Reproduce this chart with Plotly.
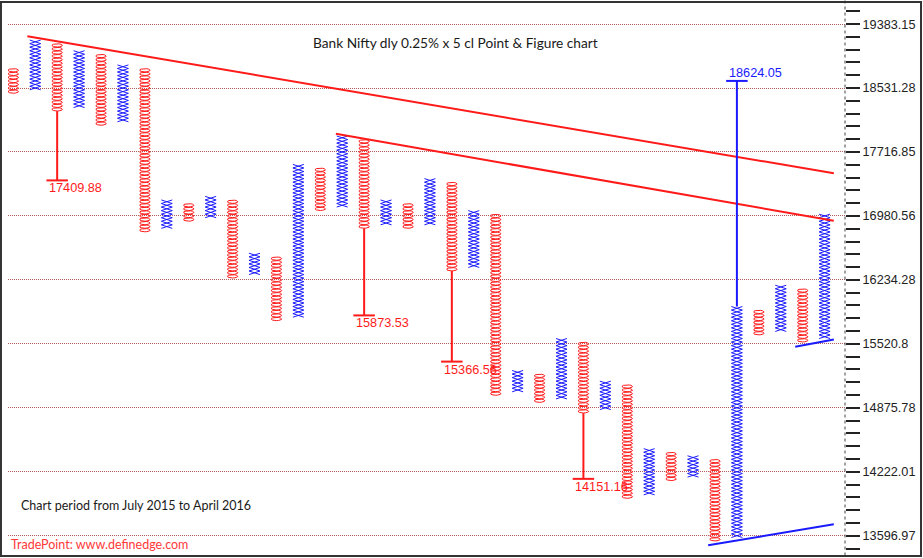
import numpy as np
import plotly.graph_objects as go

# ---------------- data ----------------
base_price = 13596.97          # price of box level 0
box_pct = 0.25                 # box size in %
reversal = 5

col_type = ['O', 'X'] * 19     # 38 columns, alternating, first column is O
col_high = [131, 139, 138, 136, 135, 132, 131, 94, 93, 95, 94, 79, 78, 104, 103, 112, 111, 94, 93,
            100, 99, 91, 90, 46, 45, 55, 54, 43, 42, 24, 23, 22, 21, 64, 63, 70, 69, 90]
col_low = [125, 126, 120, 121, 116, 117, 86, 87, 89, 90, 73, 74, 61, 62, 92, 93, 87, 88, 87,
           88, 75, 76, 40, 41, 38, 39, 35, 36, 11, 12, 16, 17, -1, 0, 57, 58, 55, 56]

tick_levels = [0, 18, 36, 54, 72, 90, 108, 126, 144]
tick_labels = ['13596.97', '14222.01', '14875.78', '15520.8', '16234.28',
               '16980.56', '17716.85', '18531.28', '19383.15']

target_col = [2, 16, 20, 26, 33]
target_level = [100, 62, 49, 16, 128]
target_label = ['17409.88', '15873.53', '15366.56', '14151.16', '18624.05']

trend_x0 = [0.64, 14.71, 31.69, 35.66]
trend_y0 = [140.6, 113.1, -2.7, 53.2]
trend_x1 = [37.42, 37.42, 37.42, 37.42]
trend_y1 = [102.0, 88.66, 3.2, 55.2]
trend_kind = ['down', 'down', 'up', 'up']

title_text = 'Bank Nifty dly 0.25% x 5 cl Point & Figure chart'
period_text = 'Chart period from July 2015 to April 2016'
source_text = 'TradePoint: www.definedge.com'

# ---------------- style ----------------
RED = '#ff1a1a'
BLUE = '#1a1aff'
GRID = '#b35c5c'
TXT_FONT = 'Lato'
NUM_FONT = 'Liberation Sans'

# ---------------- geometry helpers ----------------
XW, XH = 0.25, 0.5
OW, OH = 0.24, 0.46
theta = np.linspace(0, 2 * np.pi, 17)

xx, xy, ox, oy = [], [], [], []
for i, (t, lo, hi) in enumerate(zip(col_type, col_low, col_high)):
    for k in range(lo, hi + 1):
        if t == 'X':
            xx += [i - XW, i + XW, None, i - XW, i + XW, None]
            xy += [k - XH, k + XH, None, k + XH, k - XH, None]
        else:
            ox += list(i + OW * np.cos(theta)) + [None]
            oy += list(k + OH * np.sin(theta)) + [None]

fig = go.Figure()
fig.add_trace(go.Scatter(x=xx, y=xy, mode='lines', line=dict(color=BLUE, width=1),
                         hoverinfo='skip', showlegend=False))
fig.add_trace(go.Scatter(x=ox, y=oy, mode='lines', line=dict(color=RED, width=1),
                         hoverinfo='skip', showlegend=False))

# trend lines
for x0, y0, x1, y1, kind in zip(trend_x0, trend_y0, trend_x1, trend_y1, trend_kind):
    fig.add_trace(go.Scatter(x=[x0, x1], y=[y0, y1], mode='lines',
                             line=dict(color=RED if kind == 'down' else BLUE, width=2),
                             hoverinfo='skip', showlegend=False))

# vertical count targets
annotations = []
for c, lvl, lab in zip(target_col, target_level, target_label):
    if col_type[c] == 'O':
        start = col_low[c] - 0.5
        color = RED
        yshift = -8
    else:
        start = col_high[c] + 0.5
        color = BLUE
        yshift = 8
    fig.add_trace(go.Scatter(x=[c, c, None, c - 0.49, c + 0.49], y=[start, lvl, None, lvl, lvl],
                             mode='lines', line=dict(color=color, width=2),
                             hoverinfo='skip', showlegend=False))
    annotations.append(dict(x=c, y=lvl, xref='x', yref='y', text=lab, showarrow=False,
                            xanchor='left', yanchor='middle', xshift=-10, yshift=yshift,
                            font=dict(family=NUM_FONT, size=12.7, color=color)))

annotations += [
    dict(x=0.5352, y=0.9282, xref='paper', yref='paper', text=title_text, showarrow=False,
         xanchor='center', yanchor='middle', font=dict(family=TXT_FONT, size=13.7, color='#1a1a1a')),
    dict(x=0.0135, y=0.0922, xref='paper', yref='paper', text=period_text, showarrow=False,
         xanchor='left', yanchor='middle', font=dict(family=TXT_FONT, size=12.5, color='#1a1a1a')),
    dict(x=0.0010, y=0.0199, xref='paper', yref='paper', text=source_text, showarrow=False,
         xanchor='left', yanchor='middle', font=dict(family=TXT_FONT, size=12.5, color='#ff3838')),
]

shapes = [
    dict(type='line', xref='paper', yref='paper', x0=1, x1=1, y0=-0.01, y1=1.01,
         line=dict(color='#444444', width=1, dash='dot')),
    dict(type='rect', xref='paper', yref='paper', x0=-0.0084, x1=1.0908, y0=0.0, y1=1.0018,
         line=dict(color='#333333', width=2)),
]

fig.update_layout(
    template='none',
    width=923, height=558,
    margin=dict(l=8, r=78, t=3, b=2, autoexpand=False),
    paper_bgcolor='white', plot_bgcolor='white',
    showlegend=False, hovermode=False,
    annotations=annotations, shapes=shapes,
    xaxis=dict(range=[-0.242, 37.93], showgrid=False, zeroline=False, showticklabels=False,
               ticks='', showline=False, automargin=False),
    yaxis=dict(range=[-5.71, 149.93], side='right', tickmode='array', tickvals=tick_levels,
               ticktext=tick_labels, showgrid=True, gridcolor=GRID, griddash='1px,1px', gridwidth=1.2,
               zeroline=False, showline=False, ticks='outside', ticklen=14, tickwidth=1.5,
               tickcolor='#222222', automargin=False,
               tickfont=dict(family=NUM_FONT, size=12.7, color='#222222'),
               minor=dict(tickmode='linear', tick0=0, dtick=3.6, ticks='outside', ticklen=14,
                          tickwidth=1.5, tickcolor='#222222', showgrid=False)),
)

fig.write_html('out.html', config={'displayModeBar': False},
               post_script="document.body.style.margin='0px';document.body.style.overflow='hidden';")
